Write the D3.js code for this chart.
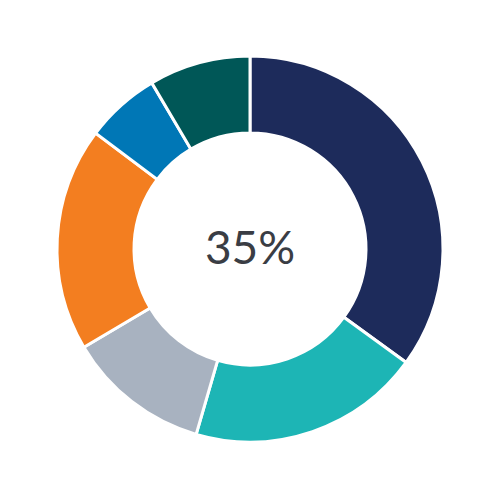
<!DOCTYPE html>
<html>
<head>
<meta charset="utf-8">
<script src="https://cdn.jsdelivr.net/npm/d3@7"></script>
<style>
  body { margin: 0; background: #fff; }
</style>
</head>
<body>
<div id="chart"></div>
<script>
// slices, clockwise from 12 o'clock
var labels = ["A", "B", "C", "D", "E", "F"];
var values = [35, 19.5, 12, 18.75, 6.25, 8.5];
var colors = ["#1d2b5b", "#1db5b5", "#a8b2c0", "#f37e20", "#0077b6", "#005757"];
var centerText = "35%";

var width = 500, height = 500;
var outerR = 193, innerR = 116;

var svg = d3.select("#chart").append("svg")
    .attr("width", width)
    .attr("height", height);

var g = svg.append("g").attr("transform", "translate(250,249)");

var pie = d3.pie().sort(null).value(d => d);
var arc = d3.arc().innerRadius(innerR).outerRadius(outerR);

g.selectAll("path")
  .data(pie(values))
  .enter().append("path")
    .attr("d", arc)
    .attr("fill", (d, i) => colors[i])
    .attr("stroke", "#fff")
    .attr("stroke-width", 3);

g.append("text")
  .attr("text-anchor", "middle")
  .attr("y", 15)
  .attr("font-family", "Lato, sans-serif")
  .attr("font-size", 46)
  .attr("fill", "#3a3d44")
  .text(centerText);
</script>
</body>
</html>
